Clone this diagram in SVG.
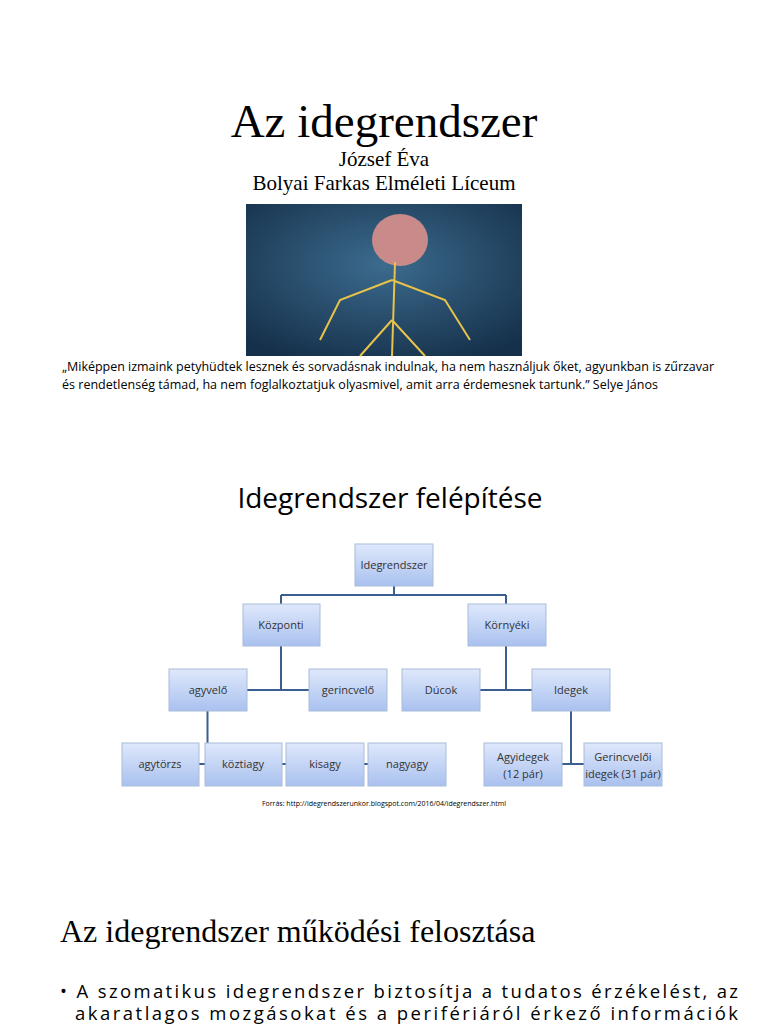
<svg xmlns="http://www.w3.org/2000/svg" width="768" height="1024" viewBox="0 0 768 1024">
<defs>
<linearGradient id="g" x1="0" y1="0" x2="0" y2="1"><stop offset="0" stop-color="#dfe8fb"/><stop offset="1" stop-color="#a9c1ef"/></linearGradient>
<radialGradient id="bg" cx="0.5" cy="0.4" r="0.7"><stop offset="0" stop-color="#3c6b8e"/><stop offset="1" stop-color="#15304a"/></radialGradient>
</defs>
<style>
.n rect{fill:url(#g);stroke:#a8bcd8;stroke-width:1}
.n text{font-family:"Open Sans","Liberation Sans",sans-serif;font-size:11px;fill:#333;text-anchor:middle}
.c{stroke:#3a5f8f;stroke-width:2;fill:none}
.serif{font-family:"Liberation Serif",serif;fill:#000}
.sans{font-family:"Open Sans","Liberation Sans",sans-serif;fill:#000}
</style>
<rect width="768" height="1024" fill="#fff"/>
<text class="serif" x="384" y="137" font-size="47" text-anchor="middle">Az idegrendszer</text>
<text class="serif" x="384" y="166" font-size="21" text-anchor="middle">József Éva</text>
<text class="serif" x="384" y="190" font-size="21" text-anchor="middle">Bolyai Farkas Elméleti Líceum</text>
<rect x="246" y="204" width="276" height="152" fill="url(#bg)"/>
<ellipse cx="400" cy="240" rx="28" ry="26" fill="#c98a8a"/>
<path d="M395 262 L392 356 M392 280 L340 300 L320 340 M392 280 L445 300 L470 340 M392 320 L360 356 M392 320 L425 356" stroke="#e8c24a" stroke-width="2" fill="none"/>
<text class="sans" x="62" y="371" font-size="12.5" textLength="652">„Miképpen izmaink petyhüdtek lesznek és sorvadásnak indulnak, ha nem használjuk őket, agyunkban is zűrzavar</text>
<text class="sans" x="62" y="389" font-size="12.5" textLength="596">és rendetlenség támad, ha nem foglalkoztatjuk olyasmivel, amit arra érdemesnek tartunk.” Selye János</text>
<text class="sans" x="390" y="508" font-size="28" text-anchor="middle">Idegrendszer felépítése</text>
<g id="connectors">
<path class="c" d="M394 586V595M281 595H506M281 595V604M506 595V604"/>
<path class="c" d="M281 646V690M247 690H309M506 646V690M480 690H532"/>
<path class="c" d="M207.5 711V743M199 764H205M282 764H286M364 764H368"/>
<path class="c" d="M571 711V764M562 764H584"/>
</g>
<g id="n-root" class="n"><rect x="355" y="544" width="78" height="42"/><text x="394" y="569">Idegrendszer</text></g>
<g id="n-kozp" class="n"><rect x="243" y="604" width="77" height="42"/><text x="281" y="629">Központi</text></g>
<g id="n-korny" class="n"><rect x="468" y="604" width="78" height="42"/><text x="507" y="629">Környéki</text></g>
<g id="n-agyvelo" class="n"><rect x="169" y="669" width="78" height="42"/><text x="208" y="694">agyvelő</text></g>
<g id="n-gerinc" class="n"><rect x="309" y="669" width="78" height="42"/><text x="348" y="694">gerincvelő</text></g>
<g id="n-ducok" class="n"><rect x="402" y="669" width="78" height="42"/><text x="441" y="694">Dúcok</text></g>
<g id="n-idegek" class="n"><rect x="532" y="669" width="78" height="42"/><text x="571" y="694">Idegek</text></g>
<g id="n-agytorzs" class="n"><rect x="122" y="743" width="77" height="43"/><text x="160" y="768">agytörzs</text></g>
<g id="n-koztiagy" class="n"><rect x="205" y="743" width="77" height="43"/><text x="243" y="768">köztiagy</text></g>
<g id="n-kisagy" class="n"><rect x="286" y="743" width="78" height="43"/><text x="325" y="768">kisagy</text></g>
<g id="n-nagyagy" class="n"><rect x="368" y="743" width="78" height="43"/><text x="407" y="768">nagyagy</text></g>
<g id="n-agyidegek" class="n"><rect x="484" y="743" width="78" height="43"/><text x="523" y="761">Agyidegek</text><text x="523" y="778">(12 pár)</text></g>
<g id="n-gerincidegek" class="n"><rect x="584" y="743" width="78" height="43"/><text x="623" y="761">Gerincvelői</text><text x="623" y="778">idegek (31 pár)</text></g>
<text class="sans" x="384" y="806" font-size="7" text-anchor="middle">Forrás: http://idegrendszerunkor.blogspot.com/2016/04/idegrendszer.html</text>
<text class="serif" x="60" y="942" font-size="32">Az idegrendszer működési felosztása</text>
<text class="sans" x="60" y="998" font-size="18.5" textLength="678">• A  szomatikus  idegrendszer  biztosítja  a  tudatos  érzékelést,  az</text>
<text class="sans" x="75" y="1020" font-size="18.5" textLength="663">akaratlagos  mozgásokat  és  a  perifériáról  érkező  információk</text>
</svg>
